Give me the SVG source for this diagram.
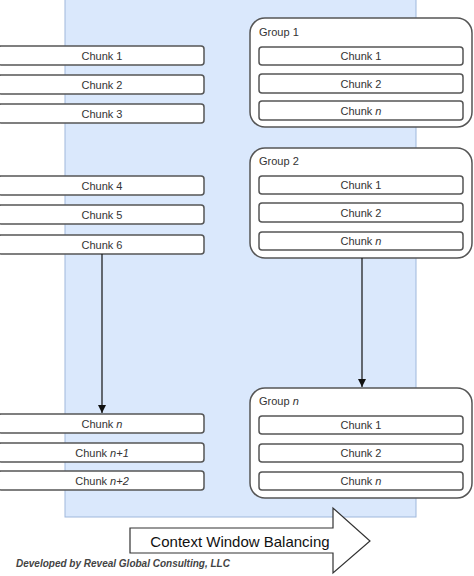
<svg xmlns="http://www.w3.org/2000/svg" width="474" height="576" viewBox="0 0 474 576">
<defs>
<style>
.bg{fill:#dae8fc;stroke:#9fb8dc;stroke-width:1}
.chunk{fill:#ffffff;stroke:#555555;stroke-width:1.5}
.grp{fill:#ffffff;stroke:#555555;stroke-width:1.5}
.t{font-family:"Liberation Sans",Arial,sans-serif;font-size:11px;fill:#333333;text-anchor:middle}
.gl{font-family:"Liberation Sans",Arial,sans-serif;font-size:11px;fill:#333333}
.conn{stroke:#111111;stroke-width:1.2;fill:none}
</style>
<marker id="ah" viewBox="0 0 10 10" refX="10" refY="5" markerWidth="8" markerHeight="8" markerUnits="userSpaceOnUse" orient="auto">
<path d="M0,0 L10,5 L0,10 Z" fill="#111111"/>
</marker>
</defs>
<rect width="474" height="576" fill="#ffffff"/>
<rect class="bg" x="65" y="-2" width="351" height="519"/>

<g id="left-chunks">
<g id="chunk1"><rect class="chunk" x="-2" y="46" width="206" height="19" rx="3"/><text class="t" x="102" y="59.5">Chunk 1</text></g>
<g id="chunk2"><rect class="chunk" x="-2" y="75" width="206" height="19" rx="3"/><text class="t" x="102" y="88.5">Chunk 2</text></g>
<g id="chunk3"><rect class="chunk" x="-2" y="104" width="206" height="19" rx="3"/><text class="t" x="102" y="117.5">Chunk 3</text></g>
<g id="chunk4"><rect class="chunk" x="-2" y="176" width="206" height="19" rx="3"/><text class="t" x="102" y="189.5">Chunk 4</text></g>
<g id="chunk5"><rect class="chunk" x="-2" y="205" width="206" height="19" rx="3"/><text class="t" x="102" y="218.5">Chunk 5</text></g>
<g id="chunk6"><rect class="chunk" x="-2" y="235" width="206" height="19" rx="3"/><text class="t" x="102" y="248.5">Chunk 6</text></g>
<g id="chunkn"><rect class="chunk" x="-2" y="414" width="206" height="19" rx="3"/><text class="t" x="102" y="427.5">Chunk <tspan font-style="italic">n</tspan></text></g>
<g id="chunkn1"><rect class="chunk" x="-2" y="443" width="206" height="19" rx="3"/><text class="t" x="102" y="456.5">Chunk <tspan font-style="italic">n+1</tspan></text></g>
<g id="chunkn2"><rect class="chunk" x="-2" y="471" width="206" height="19" rx="3"/><text class="t" x="102" y="484.5">Chunk <tspan font-style="italic">n+2</tspan></text></g>
</g>

<g id="group1">
<rect class="grp" x="250" y="18" width="222" height="109" rx="15"/>
<text class="gl" x="259" y="36">Group 1</text>
<rect class="chunk" x="259" y="47" width="204" height="18" rx="3"/><text class="t" x="361" y="60">Chunk 1</text>
<rect class="chunk" x="259" y="74" width="204" height="19" rx="3"/><text class="t" x="361" y="87.5">Chunk 2</text>
<rect class="chunk" x="259" y="101" width="204" height="19" rx="3"/><text class="t" x="361" y="114.5">Chunk <tspan font-style="italic">n</tspan></text>
</g>

<g id="group2">
<rect class="grp" x="250" y="148" width="222" height="110" rx="15"/>
<text class="gl" x="259" y="165">Group 2</text>
<rect class="chunk" x="259" y="176" width="204" height="18" rx="3"/><text class="t" x="361" y="189">Chunk 1</text>
<rect class="chunk" x="259" y="203" width="204" height="19" rx="3"/><text class="t" x="361" y="216.5">Chunk 2</text>
<rect class="chunk" x="259" y="232" width="204" height="18" rx="3"/><text class="t" x="361" y="245">Chunk <tspan font-style="italic">n</tspan></text>
</g>

<g id="groupn">
<rect class="grp" x="250" y="388" width="222" height="110" rx="15"/>
<text class="gl" x="259" y="405">Group <tspan font-style="italic">n</tspan></text>
<rect class="chunk" x="259" y="416" width="204" height="18" rx="3"/><text class="t" x="361" y="429">Chunk 1</text>
<rect class="chunk" x="259" y="444" width="204" height="18" rx="3"/><text class="t" x="361" y="457">Chunk 2</text>
<rect class="chunk" x="259" y="472" width="204" height="18" rx="3"/><text class="t" x="361" y="485">Chunk <tspan font-style="italic">n</tspan></text>
</g>

<g id="connectors">
<line class="conn" x1="102" y1="254" x2="102" y2="413" marker-end="url(#ah)"/>
<line class="conn" x1="362" y1="258" x2="362" y2="387" marker-end="url(#ah)"/>
</g>

<g id="balance-arrow">
<path d="M130,528 L333,528 L333,508 L370,541 L333,573 L333,553 L130,553 Z" fill="#ffffff" stroke="#333333" stroke-width="1.2"/>
<text x="240" y="546.5" font-family="'Liberation Sans',Arial,sans-serif" font-size="15px" fill="#111111" text-anchor="middle">Context Window Balancing</text>
</g>

<text x="16" y="567" font-family="'Liberation Sans',Arial,sans-serif" font-size="10px" font-style="italic" font-weight="bold" fill="#444444">Developed by Reveal Global Consulting, LLC</text>
</svg>
